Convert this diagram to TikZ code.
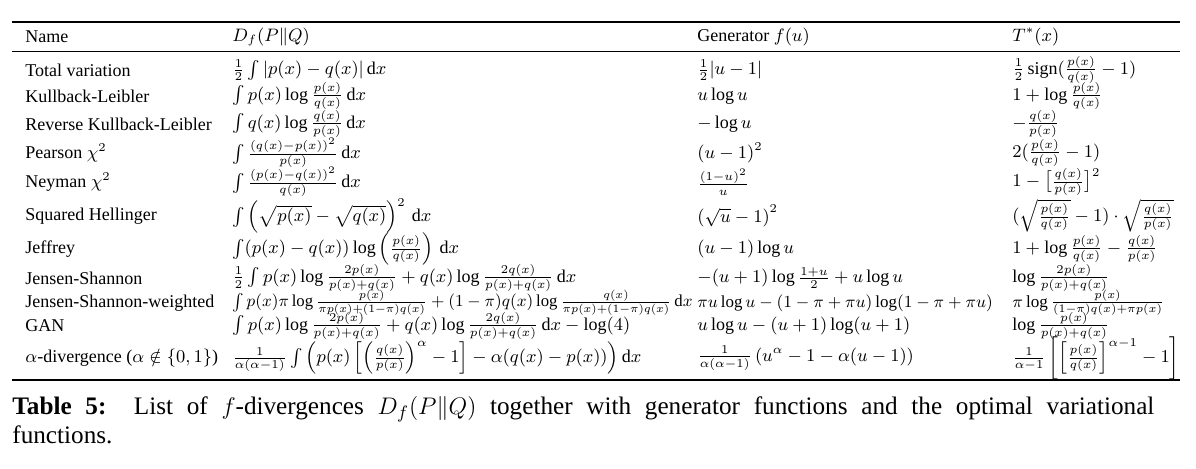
\documentclass[tikz,border=0pt]{standalone}
\usepackage{amsmath,amssymb}
\usepackage{fontspec}
\setmainfont{Liberation Serif}
\begin{document}
\begin{tikzpicture}[x=0.5pt,y=-0.5pt,
  cell/.style={anchor=west,inner sep=0pt,font=\fontsize{9}{11}\selectfont}]
\useasboundingbox (0,0) rectangle (1196,468);
\draw[line width=0.9pt] (12,22) -- (1180,22);
\draw[line width=0.5pt] (12,51) -- (1180,51);
\draw[line width=0.9pt] (12,380) -- (1180,380);
\node[cell] (h1) at (25,37) {Name};
\node[cell] (h2) at (232,37) {$D_f(P\|Q)$};
\node[cell] (h3) at (697,37) {Generator $f(u)$};
\node[cell] (h4) at (1012,37) {$T^*(x)$};
% rows
\node[cell] (n1) at (25,70) {Total variation};
\node[cell] (d1) at (232,70) {$\frac12\int|p(x)-q(x)|\,\mathrm{d}x$};
\node[cell] (g1) at (697,70) {$\frac12|u-1|$};
\node[cell] (t1) at (1012,70) {$\frac12\operatorname{sign}(\frac{p(x)}{q(x)}-1)$};
\node[cell] (n2) at (25,96) {Kullback-Leibler};
\node[cell] (d2) at (232,96) {$\int p(x)\log\frac{p(x)}{q(x)}\,\mathrm{d}x$};
\node[cell] (g2) at (697,96) {$u\log u$};
\node[cell] (t2) at (1012,96) {$1+\log\frac{p(x)}{q(x)}$};
\node[cell] (n3) at (25,124) {Reverse Kullback-Leibler};
\node[cell] (d3) at (232,124) {$\int q(x)\log\frac{q(x)}{p(x)}\,\mathrm{d}x$};
\node[cell] (g3) at (697,124) {$-\log u$};
\node[cell] (t3) at (1012,124) {$-\frac{q(x)}{p(x)}$};
\node[cell] (n4) at (25,153) {Pearson $\chi^2$};
\node[cell] (d4) at (232,153) {$\int\frac{(q(x)-p(x))^2}{p(x)}\,\mathrm{d}x$};
\node[cell] (g4) at (697,153) {$(u-1)^2$};
\node[cell] (t4) at (1012,153) {$2(\frac{p(x)}{q(x)}-1)$};
\node[cell] (n5) at (25,182) {Neyman $\chi^2$};
\node[cell] (d5) at (232,182) {$\int\frac{(p(x)-q(x))^2}{q(x)}\,\mathrm{d}x$};
\node[cell] (g5) at (697,182) {$\frac{(1-u)^2}{u}$};
\node[cell] (t5) at (1012,182) {$1-\bigl[\frac{q(x)}{p(x)}\bigr]^2$};
\node[cell] (n6) at (25,216) {Squared Hellinger};
\node[cell] (d6) at (232,216) {$\int\left(\sqrt{p(x)}-\sqrt{q(x)}\right)^2\,\mathrm{d}x$};
\node[cell] (g6) at (697,216) {$\left(\sqrt{u}-1\right)^2$};
\node[cell] (t6) at (1012,216) {$(\sqrt{\frac{p(x)}{q(x)}}-1)\cdot\sqrt{\frac{q(x)}{p(x)}}$};
\node[cell] (n7) at (25,249) {Jeffrey};
\node[cell] (d7) at (232,249) {$\int(p(x)-q(x))\log\left(\frac{p(x)}{q(x)}\right)\,\mathrm{d}x$};
\node[cell] (g7) at (697,249) {$(u-1)\log u$};
\node[cell] (t7) at (1012,249) {$1+\log\frac{p(x)}{q(x)}-\frac{q(x)}{p(x)}$};
\node[cell] (n8) at (25,278) {Jensen-Shannon};
\node[cell] (d8) at (232,278) {$\frac12\int p(x)\log\frac{2p(x)}{p(x)+q(x)}+q(x)\log\frac{2q(x)}{p(x)+q(x)}\,\mathrm{d}x$};
\node[cell] (g8) at (697,278) {$-(u+1)\log\frac{1+u}{2}+u\log u$};
\node[cell] (t8) at (1012,278) {$\log\frac{2p(x)}{p(x)+q(x)}$};
\node[cell] (n9) at (25,303) {Jensen-Shannon-weighted};
\node[cell] (d9) at (232,303) {\scalebox{0.93}{$\int p(x)\pi\log\frac{p(x)}{\pi p(x)+(1-\pi)q(x)}+(1-\pi)q(x)\log\frac{q(x)}{\pi p(x)+(1-\pi)q(x)}\,\mathrm{d}x$}};
\node[cell] (g9) at (697,303) {\scalebox{0.94}{$\pi u\log u-(1-\pi+\pi u)\log(1-\pi+\pi u)$}};
\node[cell] (t9) at (1012,303) {\scalebox{0.95}{$\pi\log\frac{p(x)}{(1-\pi)q(x)+\pi p(x)}$}};
\node[cell] (n10) at (25,326) {GAN};
\node[cell] (d10) at (232,326) {$\int p(x)\log\frac{2p(x)}{p(x)+q(x)}+q(x)\log\frac{2q(x)}{p(x)+q(x)}\,\mathrm{d}x-\log(4)$};
\node[cell] (g10) at (697,326) {$u\log u-(u+1)\log(u+1)$};
\node[cell] (t10) at (1012,326) {$\log\frac{p(x)}{p(x)+q(x)}$};
\node[cell] (n11) at (25,358) {$\alpha$-divergence ($\alpha\notin\{0,1\}$)};
\node[cell] (d11) at (232,358) {$\frac{1}{\alpha(\alpha-1)}\int\left(p(x)\left[\left(\frac{q(x)}{p(x)}\right)^{\alpha}-1\right]-\alpha(q(x)-p(x))\right)\mathrm{d}x$};
\node[cell] (g11) at (697,358) {$\frac{1}{\alpha(\alpha-1)}\left(u^{\alpha}-1-\alpha(u-1)\right)$};
\node[cell] (t11) at (1012,358) {$\frac{1}{\alpha-1}\left[\left[\frac{p(x)}{q(x)}\right]^{\alpha-1}-1\right]$};
% caption
\node[anchor=north west,inner sep=0pt,text width=571pt,align=justify,
  font=\fontsize{12.6}{14.6}\selectfont] (cap) at (12,396)
  {\textbf{Table 5:}\ \ List of $f$-divergences $D_f(P\|Q)$ together with generator functions and the optimal variational\linebreak functions.};
\end{tikzpicture}
\end{document}
